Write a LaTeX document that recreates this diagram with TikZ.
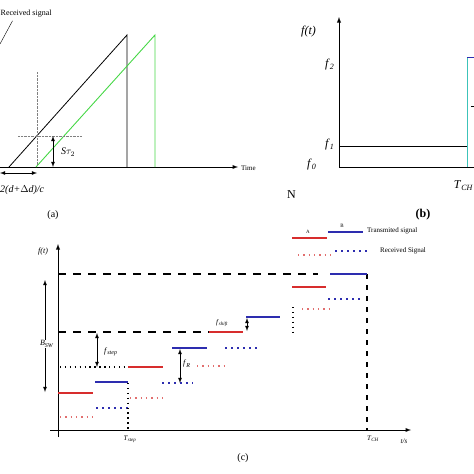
\documentclass[tikz,border=0pt]{standalone}
\usepackage{fontspec}
\setmainfont{Liberation Serif}
\definecolor{sigred}{RGB}{215,45,45}
\definecolor{sigblue}{RGB}{45,45,175}
\definecolor{lightred}{RGB}{225,110,110}
\definecolor{siggreen}{RGB}{70,215,70}
\definecolor{sigcyan}{RGB}{60,195,185}
\newcommand{\itx}[1]{\textit{#1}}
\newcommand{\sbs}[1]{\textsubscript{\textit{#1}}}
\begin{document}
\begin{tikzpicture}[x=1pt,y=-1pt,
    axis/.style={line width=0.9pt},
    lbl/.style={inner sep=0pt, anchor=west},
    txa/.style={sigred, line width=1.3pt},
    txb/.style={sigblue, line width=1.6pt},
    rxa/.style={lightred, line width=1.3pt, dash pattern=on 1.3pt off 4pt},
    rxb/.style={sigblue, line width=1.5pt, dash pattern=on 1.5pt off 4.5pt},
    blkdot/.style={black, line width=1.4pt, dash pattern=on 1.4pt off 3.5pt},
    bigdash/.style={black, line width=1.6pt, dash pattern=on 8pt off 7pt}]
    \useasboundingbox (0,0) rectangle (474,474);
    \clip (0,0) rectangle (474,474);

    % (a)
    \coordinate (ao) at (0,167);
    \coordinate (ae) at (238,167);
    \draw[axis,-latex] (ao) -- (ae);
    \node[lbl, font=\scriptsize] (time) at (241,168) {Time};
    \node[lbl, font=\footnotesize] (recv) at (0.5,14) {Received signal};
    \coordinate (rl) at (0,44);
    \draw (recv.south west) ++(12,3) -- (rl);
    \draw[line width=0.8pt] (9,167) -- (127,35) -- (127,167);
    \draw[siggreen, line width=0.9pt] (36,167) -- (155,35) -- (155,167);
    \draw[densely dotted, gray] (37,72) -- (37,165);
    \draw[densely dotted, gray] (18,136) -- (82,136);
    \draw[latex-latex, thick] (53,136) -- (53,167);
    \node[lbl] (stau) at (61,152) {\itx{S}$\tau_2$};
    \draw[latex-latex, thick] (0,173) -- (37,173);
    \node[lbl] (dd) at (0,190) {\itx{2(d+$\Delta$d)/c}};
    \node (capa) at (53,215) {(a)};

    % (b)
    \coordinate (bo) at (339,167);
    \draw[axis,-latex] (bo) -- (339,17);
    \draw[axis] (bo) -- (476,167);
    \node[lbl, font=\large] (bft) at (301,32) {\itx{f(t)}};
    \node[lbl, font=\large] (bf2) at (325,65) {\itx{f}\sbs{2}};
    \node[lbl, font=\large] (bf1) at (325,145) {\itx{f}\sbs{1}};
    \node[lbl, font=\large] (bf0) at (307,165) {\itx{f}\sbs{0}};
    \draw[axis] (339,146) -- (467,146);
    \draw[sigcyan, line width=0.9pt] (467,167) -- (467,57);
    \draw[sigblue, line width=1pt] (467,57) -- (476,57);
    \draw (471,106) -- (476,106);
    \node[inner sep=0pt, anchor=east, font=\large] (btch) at (473.5,186) {\itx{T}\sbs{CH}};
    \node[lbl, font=\large] (bn) at (287,195) {N};
    \node[font=\large\bfseries] (capb) at (423,215) {(b)};

    % (c)
    \coordinate (co) at (58,437);
    \draw[axis,-latex] (co) -- (58,244);
    \draw[axis,-latex] (50,430) -- (411,430);
    \node[lbl, font=\footnotesize] (cft) at (38,252) {\itx{f(t)}};
    \node[font=\scriptsize] (tstep) at (130,439) {\itx{T}\sbs{step}};
    \node[font=\scriptsize] (tch) at (373,439) {\itx{T}\sbs{CH}};
    \node[font=\scriptsize] (ts) at (404,441) {\itx{t/s}};
    \node (capc) at (243,458) {(c)};

    \draw[bigdash] (58,274) -- (318,274);
    \draw[bigdash] (58,332) -- (209,332);
    \draw[black, line width=1.2pt, dash pattern=on 5pt off 6pt] (367,274) -- (367,430);

    \draw[latex-latex, thick] (45,280) -- (45,392);
    \node[font=\footnotesize, fill=white, inner sep=0.5pt] (bsw) at (47,344) {\itx{B}\sbs{SW}};
    \draw[latex-latex, thick] (97,333) -- (97,367);
    \node[lbl, font=\footnotesize] (fstep) at (104,352) {\itx{f}\sbs{step}};
    \draw[latex-latex, thick] (180,349) -- (180,383);
    \node[lbl, font=\footnotesize] (fr) at (183,364) {\itx{f}\sbs{R}};
    \draw[latex-latex, thick] (247,318) -- (247,331);
    \node[lbl, font=\scriptsize] (fshift) at (216,323) {\itx{f}\sbs{shift}};

    % steps
    \draw[txa] (58,393) -- (93,393);
    \draw[rxa] (60,417) -- (93,417);
    \draw[txb] (95,382) -- (128,382);
    \draw[rxb] (96,408) -- (128,408);
    \draw[blkdot] (128,383) -- (128,430);
    \draw[blkdot] (60,367) -- (127,367);
    \draw[txa] (128,367) -- (163,367);
    \draw[rxa] (130,398) -- (163,398);
    \draw[txb] (172,348) -- (207,348);
    \draw[rxb] (162,383) -- (193,383);
    \draw[rxa] (197,366) -- (228,366);
    \draw[rxb] (225,348) -- (258,348);
    \draw[txa] (209,332) -- (243,332);
    \draw[txb] (246,317) -- (280,317);
    \draw[blkdot] (293,307) -- (293,334);
    \draw[rxa] (302,309) -- (332,309);
    \draw[txa] (292,287) -- (326,287);
    \draw[rxb] (328,299) -- (360,299);
    \draw[txb] (330,274) -- (367,274);

    % legend
    \draw[txa] (292,238) -- (327,238);
    \node[font=\tiny] (la) at (308,232) {A};
    \draw[txb] (328,232) -- (363,232);
    \node[font=\tiny] (lb) at (342,226) {B};
    \node[lbl, font=\scriptsize] (ltx) at (367,231) {Transmited signal};
    \draw[rxa] (298,255) -- (332,255);
    \draw[rxb] (335,251) -- (367,251);
    \node[lbl, font=\scriptsize] (lrx) at (380,251) {Received Signal};
\end{tikzpicture}
\end{document}
